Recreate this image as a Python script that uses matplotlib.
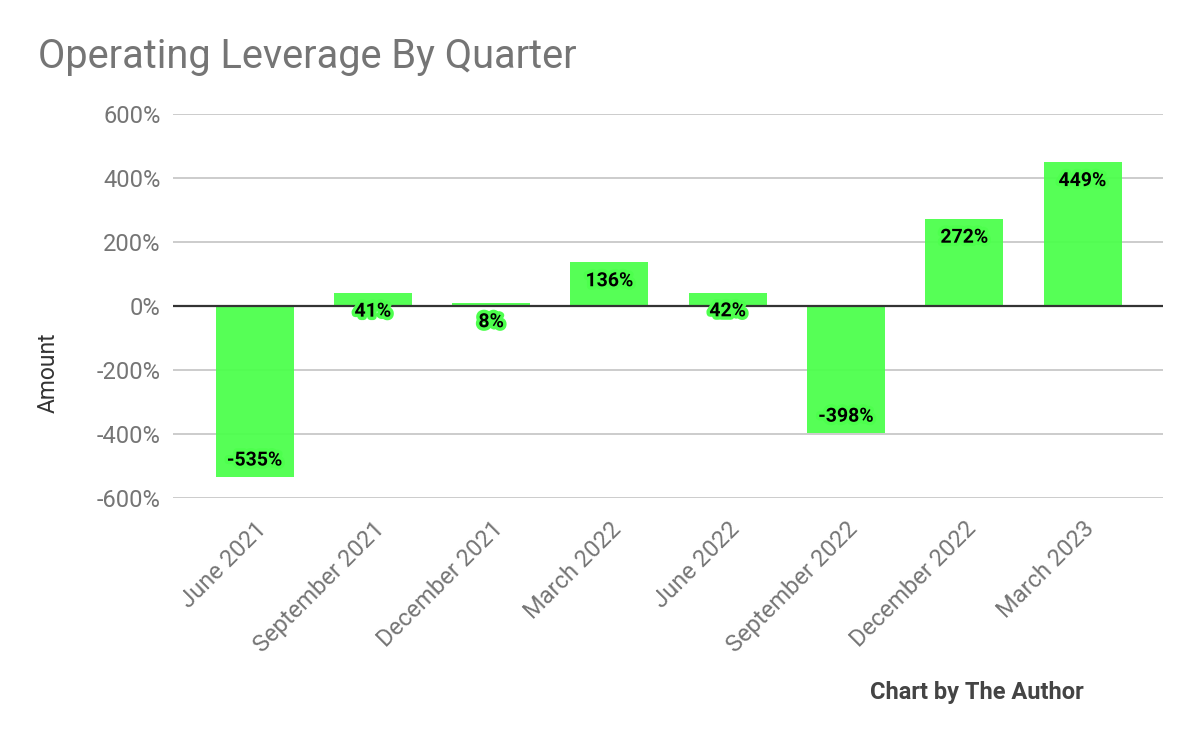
import matplotlib.pyplot as plt
import matplotlib.patheffects as pe
import numpy as np

plt.rcParams['font.family'] = ['Roboto', 'DejaVu Sans']

quarters = ["June 2021", "September 2021", "December 2021", "March 2022",
            "June 2022", "September 2022", "December 2022", "March 2023"]
leverage = [-535, 41, 8, 136, 42, -398, 272, 449]
yticks = [-600, -400, -200, 0, 200, 400, 600]

bar_color = '#4dff4d'

fig = plt.figure(figsize=(12, 7.42), dpi=100)
ax = fig.add_axes([173/1200, 1 - 498/742, 990/1200, 384/742])

x = np.arange(len(quarters))
ax.bar(x, leverage, width=0.66, color=bar_color, alpha=0.95, zorder=2)

for xi, v in zip(x, leverage):
    off = -13.5 if v >= 0 else 12
    ax.annotate(f"{v}%", (xi, v), xytext=(0, off), textcoords='offset points',
                ha='center', va='center', fontsize=14, fontweight='bold',
                color='black', zorder=5,
                path_effects=[pe.withStroke(linewidth=5, foreground=bar_color)])

ax.axhline(0, color='#333333', linewidth=1.6, zorder=3)

ax.set_ylim(-600, 600)
ax.set_xlim(-0.69, 7.68)
ax.set_yticks(yticks)
ax.set_yticklabels([f"{t}%" for t in yticks])
ax.yaxis.grid(True, color='#cccccc', linewidth=1.4, zorder=1)
ax.set_axisbelow(True)
ax.set_xticks(x)
ax.set_xticklabels(quarters, rotation=45, ha='right', rotation_mode='anchor')

ax.tick_params(axis='both', length=0, labelsize=17, labelcolor='#757575')
ax.tick_params(axis='x', pad=14)
ax.tick_params(axis='y', pad=9)
for s in ax.spines.values():
    s.set_visible(False)

fig.text(48/1200, 1 - 373/742, "Amount", fontsize=16.5, color='#333333',
         rotation=90, va='center', ha='center')
fig.text(38/1200, 1 - 57/742, "Operating Leverage By Quarter", fontsize=28.6,
         color='#757575', va='center', ha='left')
fig.text(1084/1200, 1 - 692/742, "Chart by The Author", fontsize=17,
         fontweight='bold', color='#444444', va='center', ha='right')

fig.savefig("out.png", dpi=100)
